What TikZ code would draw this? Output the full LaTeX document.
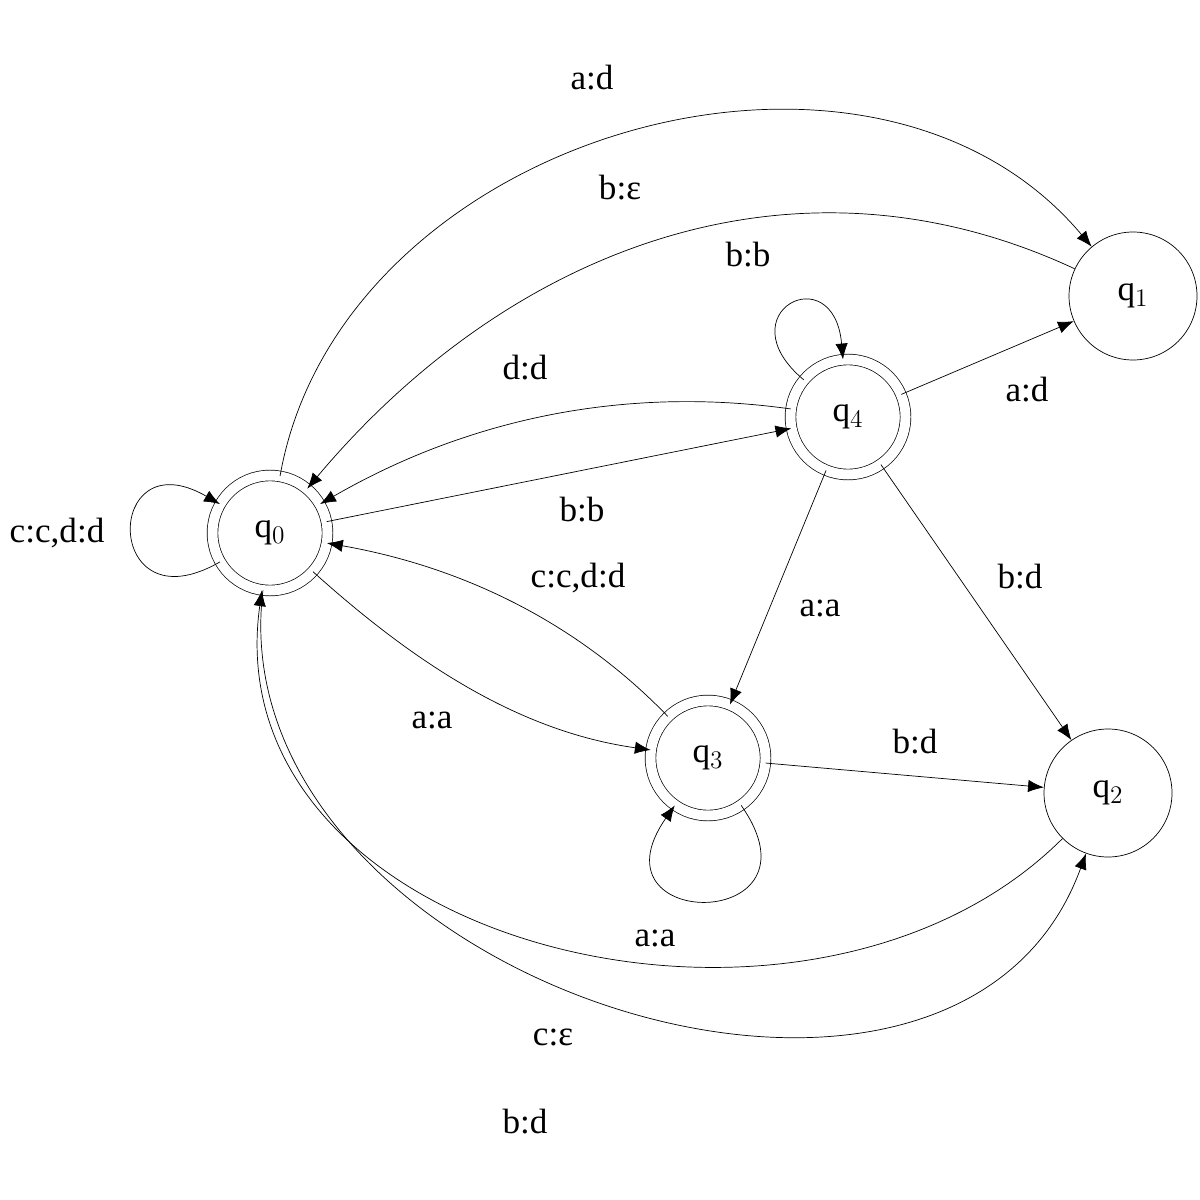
\documentclass[tikz,border=0pt]{standalone}
\usepackage{fontspec}
\setmainfont{Liberation Serif}
\usetikzlibrary{arrows.meta}
\tikzset{
  state/.style={circle, draw=black, minimum size=2.56cm, inner sep=0pt},
  accept/.style={circle, draw=black, double, double distance=0.2cm, minimum size=2.3cm, inner sep=0pt},
  trans/.style={-{Latex[length=9pt,width=7pt]}, thin},
  lbl/.style={font=\fontsize{20}{24}\selectfont}
}
\begin{document}
\begin{tikzpicture}[font=\fontsize{20}{24}\selectfont]
  \useasboundingbox (0,0) rectangle (24,-24);
  % states
  \node[accept] (q0) at (5.4,-10.66) {q$_0$};
  \node[accept] (q4) at (16.96,-8.34) {q$_4$};
  \node[state] (q1) at (22.66,-5.92) {q$_1$};
  \node[accept] (q3) at (14.16,-15.16) {q$_3$};
  \node[state] (q2) at (22.16,-15.86) {q$_2$};

  % transitions
  \draw[trans] (q0) to[out=80, in=130, looseness=1.05] (q1);
  \node[lbl] at (11.84,-1.56) {a:d};
  \draw[trans] (q1) to[out=155, in=50, looseness=1.0] (q0);
  \node[lbl] at (12.4,-3.76) {b:ε};
  \draw[trans] (q4) to[out=140, in=95, looseness=6] (q4);
  \node[lbl] at (14.96,-5.1) {b:b};
  \draw[trans] (q4) to[out=172, in=30, looseness=0.9] (q0);
  \node[lbl] at (10.5,-7.36) {d:d};
  \draw[trans] (q0) -- (q4);
  \node[lbl] at (11.64,-10.2) {b:b};
  \draw[trans] (q4) -- (q1);
  \node[lbl] at (20.54,-7.8) {a:d};
  \draw[trans] (q0) to[out=210, in=150, looseness=6] (q0);
  \node[lbl] at (1.14,-10.66) {c:c,d:d};
  \draw[trans] (q3) to[out=134, in=-10, looseness=0.9] (q0);
  \node[lbl] at (11.56,-11.56) {c:c,d:d};
  \draw[trans] (q0) to[out=-42, in=172, looseness=0.9] (q3);
  \node[lbl] at (8.64,-14.4) {a:a};
  \draw[trans] (q4) -- (q3);
  \node[lbl] at (16.4,-12.16) {a:a};
  \draw[trans] (q4) -- (q2);
  \node[lbl] at (20.4,-11.54) {b:d};
  \draw[trans] (q3) -- (q2);
  \node[lbl] at (18.3,-14.84) {b:d};
  \draw[trans] (q3) to[out=-55, in=-125, looseness=6] (q3);
  \node[lbl] at (13.1,-18.76) {a:a};
  \draw[trans] (q2) to[out=-135, in=-98, looseness=1.1] (q0);
  \node[lbl] at (11.06,-20.74) {c:ε};
  \draw[trans] (q0) to[out=-97, in=-110, looseness=1.15] (q2);
  \node[lbl] at (10.5,-22.44) {b:d};
\end{tikzpicture}
\end{document}
